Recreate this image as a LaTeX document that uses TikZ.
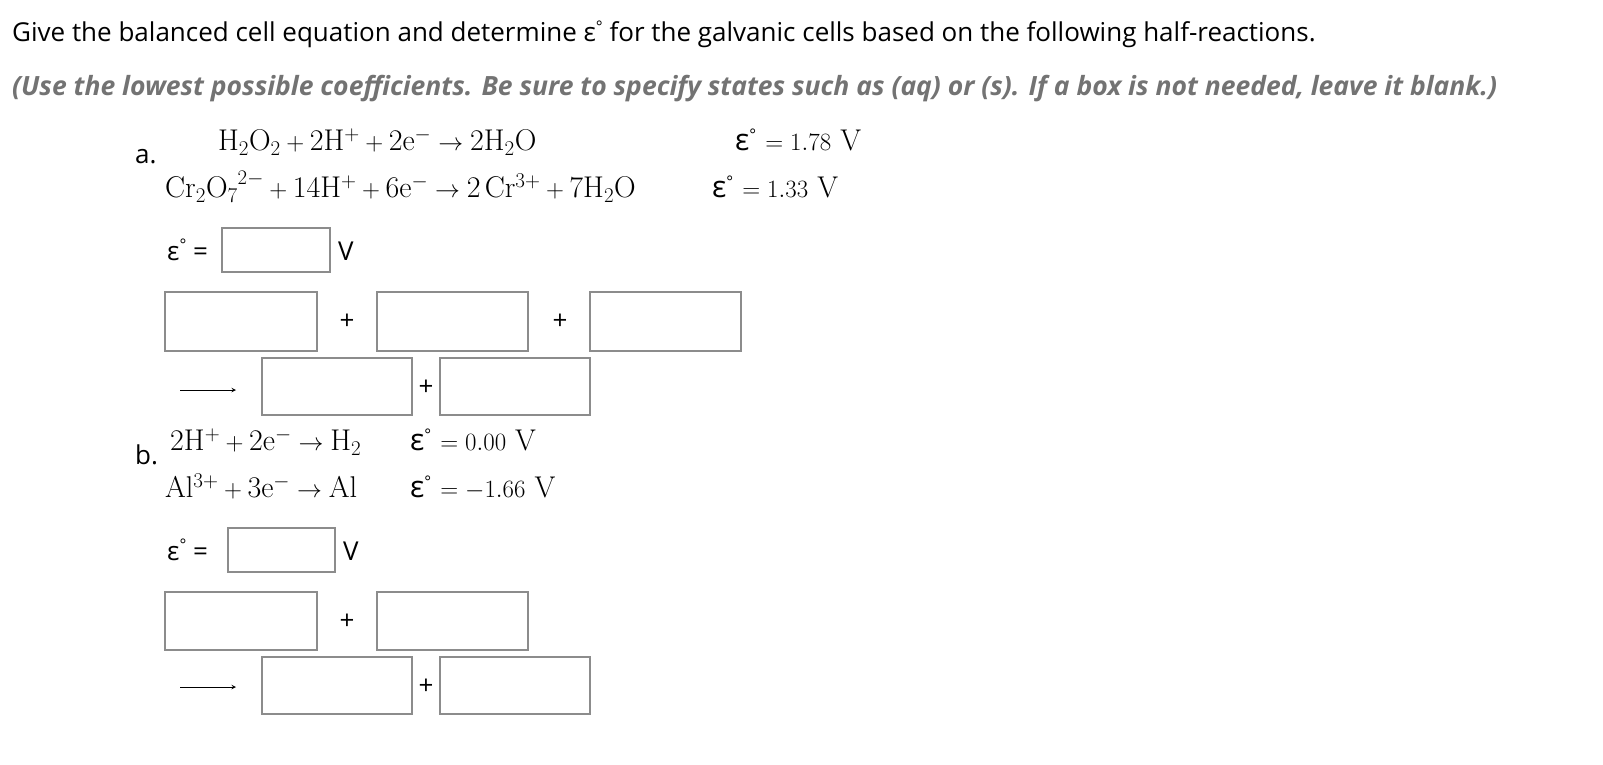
\documentclass[tikz,border=0pt]{standalone}
\usepackage{fontspec}
\setsansfont{Open Sans}
\begin{document}
\begin{tikzpicture}[x=1pt,y=-1pt,
  box/.style={draw=black!45,line width=1.4pt,fill=white},
  sf/.style={font=\sffamily\fontsize{26}{30}\selectfont,anchor=base west,inner sep=0pt},
  eq/.style={font=\fontsize{30}{34}\selectfont,anchor=base west,inner sep=0pt},
  pl/.style={font=\sffamily\fontsize{26}{30}\selectfont}]
\useasboundingbox (0,0) rectangle (1603,765);
\def\ep{\textsf{ε}\raisebox{0.7ex}{\textsf{\fontsize{16}{16}\selectfont°}}}
\node[sf] (t1) at (12,42) {Give the balanced cell equation and determine \ep\ for the galvanic cells based on the following half-reactions.};
\node[sf,text=black!55,font=\sffamily\bfseries\itshape\fontsize{26.5}{30}\selectfont] (t2) at (12,96) {(Use the lowest possible coefficients. Be sure to specify states such as (aq) or (s). If a box is not needed, leave it blank.)};
\node[sf] (a) at (135,163) {a.};
\node[eq] (e1) at (218,150) {$\mathrm{H_2O_2} + \mathrm{2H^+} + \mathrm{2e^-} \rightarrow \mathrm{2H_2O}$};
\node[eq] (p1) at (735,150) {\ep\ $= 1.78\ \mathrm{V}$};
\node[eq] (e2) at (165,197) {$\mathrm{Cr_2O_7}^{2-} + \mathrm{14H^+} + \mathrm{6e^-} \rightarrow \mathrm{2\,Cr^{3+}} + \mathrm{7H_2O}$};
\node[eq] (p2) at (712,197) {\ep\ $= 1.33\ \mathrm{V}$};
\node[sf] (ea) at (167,260) {\ep\ =};
\draw[box] (222,228) rectangle (330,272);
\node[sf] (va) at (338,260) {V};
\draw[box] (165,292) rectangle (317,351);
\node[pl] (pa1) at (347,322) {+};
\draw[box] (377,292) rectangle (528,351);
\node[pl] (pa2) at (560,322) {+};
\draw[box] (590,292) rectangle (741,351);
\coordinate (ar1) at (180,390); \coordinate (ar2) at (236,390);
\draw[-stealth,line width=1pt] (ar1) -- (ar2);
\draw[box] (262,358) rectangle (412,415);
\node[pl] (pa3) at (426,388) {+};
\draw[box] (440,358) rectangle (590,415);
\node[sf] (b) at (135,464) {b.};
\node[eq] (e3) at (170,450) {$\mathrm{2H^+} + \mathrm{2e^-} \rightarrow \mathrm{H_2}$};
\node[eq] (p3) at (410,450) {\ep\ $= 0.00\ \mathrm{V}$};
\node[eq] (e4) at (165,497) {$\mathrm{Al^{3+}} + \mathrm{3e^-} \rightarrow \mathrm{Al}$};
\node[eq] (p4) at (410,497) {\ep\ $= -1.66\ \mathrm{V}$};
\node[sf] (eb) at (167,560) {\ep\ =};
\draw[box] (228,528) rectangle (335,572);
\node[sf] (vb) at (343,560) {V};
\draw[box] (165,592) rectangle (317,650);
\node[pl] (pb1) at (347,622) {+};
\draw[box] (377,592) rectangle (528,650);
\coordinate (br1) at (180,687); \coordinate (br2) at (236,687);
\draw[-stealth,line width=1pt] (br1) -- (br2);
\draw[box] (262,657) rectangle (412,714);
\node[pl] (pb2) at (426,687) {+};
\draw[box] (440,657) rectangle (590,714);
\end{tikzpicture}
\end{document}
